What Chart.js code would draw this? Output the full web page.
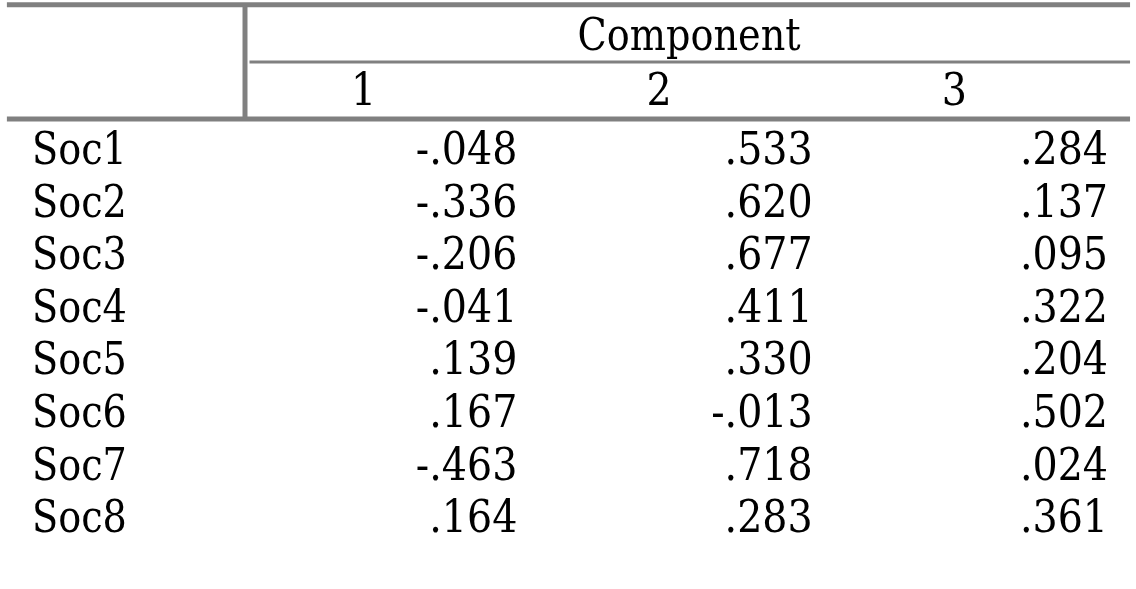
<!DOCTYPE html>
<html>
<head>
<meta charset="utf-8">
<script src="https://cdn.jsdelivr.net/npm/chart.js@4.4.1/dist/chart.umd.min.js"></script>
<style>
  html, body { margin: 0; padding: 0; background: #fff; }
  #wrap { width: 1136px; height: 589px; }
</style>
</head>
<body>
<div id="wrap"><canvas id="myChart"></canvas></div>
<script>
// table contents
var headerTitle = "Component";
var componentLabels = ["1", "2", "3"];
var rowLabels = ["Soc1", "Soc2", "Soc3", "Soc4", "Soc5", "Soc6", "Soc7", "Soc8"];
var component1 = [-0.048, -0.336, -0.206, -0.041, 0.139, 0.167, -0.463, 0.164];
var component2 = [0.533, 0.620, 0.677, 0.411, 0.330, -0.013, 0.718, 0.283];
var component3 = [0.284, 0.137, 0.095, 0.322, 0.204, 0.502, 0.024, 0.361];

var columns = [component1, component2, component3];
var FONT = '44px "DejaVu Serif Condensed", "DejaVu Serif", serif';
var RULE = "#808080";

// SPSS style: no leading zero
function fmt(v) {
  return v.toFixed(3).replace("0.", ".");
}

// one dataset per column, row index on y, column edge on x
var datasets = columns.map(function (values, k) {
  return {
    label: componentLabels[k],
    data: values.map(function (v, i) {
      return { x: k + 1, y: i, v: v };
    }),
    pointRadius: 0,
    pointHoverRadius: 0,
    showLine: false
  };
});

// text squeezed a little horizontally (the labels run narrower than the digits)
function squeezed(ctx, text, x, y, sx) {
  ctx.save();
  ctx.translate(x, y);
  ctx.scale(sx, 1);
  ctx.fillText(text, 0, 0);
  ctx.restore();
}

var tablePlugin = {
  id: "tableText",
  afterDatasetsDraw: function (chart) {
    var ctx = chart.ctx;
    var xs = chart.scales.x;
    var ys = chart.scales.y;
    var left = xs.getPixelForValue(-0.813);
    var right = xs.getPixelForValue(2.99);
    var split = xs.getPixelForValue(0);

    ctx.save();
    ctx.strokeStyle = RULE;

    function hline(yv, x0, x1, w) {
      var py = ys.getPixelForValue(yv);
      ctx.lineWidth = w;
      ctx.beginPath();
      ctx.moveTo(x0, py);
      ctx.lineTo(x1, py);
      ctx.stroke();
    }

    hline(-3.03, left, right, 5);
    hline(-1.94, split + 2.5, right, 3);
    hline(-0.855, left, right, 5);

    // vertical rule after the label column
    ctx.lineWidth = 5;
    ctx.beginPath();
    ctx.moveTo(split - 2, ys.getPixelForValue(-3.03));
    ctx.lineTo(split - 2, ys.getPixelForValue(-0.855));
    ctx.stroke();

    ctx.fillStyle = "#000";
    ctx.font = FONT;
    ctx.textBaseline = "alphabetic";

    // header
    ctx.textAlign = "center";
    squeezed(ctx, headerTitle, xs.getPixelForValue(1.497), ys.getPixelForValue(-2.167), 0.965);
    componentLabels.forEach(function (lab, k) {
      ctx.fillText(lab, xs.getPixelForValue(k + 0.395), ys.getPixelForValue(-1.12));
    });

    // row labels
    ctx.textAlign = "left";
    rowLabels.forEach(function (lab, i) {
      squeezed(ctx, lab, xs.getPixelForValue(-0.728), ys.getPixelForValue(i), 0.965);
    });

    // cell values at the points' positions
    ctx.textAlign = "right";
    chart.data.datasets.forEach(function (ds, d) {
      var meta = chart.getDatasetMeta(d);
      meta.data.forEach(function (pt, i) {
        ctx.fillText(fmt(ds.data[i].v), pt.x - 25, pt.y);
      });
    });
    ctx.restore();
  }
};

var ctx = document.getElementById("myChart").getContext("2d");
var chart = new Chart(ctx, {
  type: "scatter",
  data: { datasets: datasets },
  options: {
    responsive: true,
    maintainAspectRatio: false,
    animation: false,
    events: [],
    layout: { padding: { left: 247, right: 3, top: 0, bottom: 0 } },
    plugins: {
      legend: { display: false },
      tooltip: { enabled: false }
    },
    scales: {
      x: { type: "linear", display: false, min: 0, max: 3 },
      y: { type: "linear", display: false, reverse: true, min: -3.118, max: 8.08 }
    }
  },
  plugins: [tablePlugin]
});
</script>
</body>
</html>
